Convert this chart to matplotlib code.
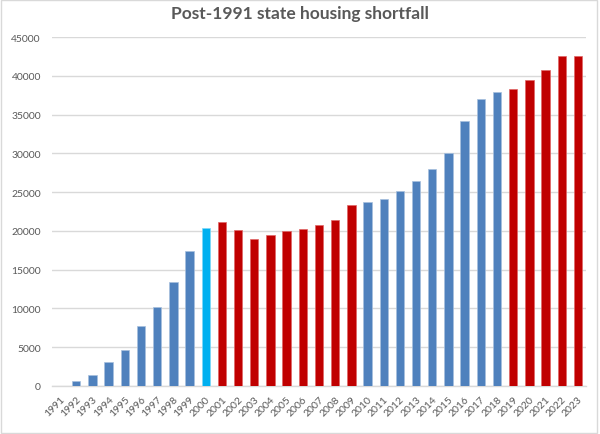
import matplotlib
matplotlib.use("Agg")
import matplotlib.pyplot as plt
from matplotlib.ticker import MultipleLocator

years = [str(y) for y in range(1991, 2024)]
shortfall = [0, 700, 1450, 3100, 4700, 7800, 10200, 13400, 17400, 20400,
             21100, 20100, 18900, 19500, 20000, 20200, 20700, 21400, 23300,
             23700, 24100, 25100, 26400, 28000, 30100, 34200, 37000, 37900,
             38300, 39400, 40800, 42500, 42600]
groups = ["b"] * 9 + ["c"] + ["r"] * 9 + ["b"] * 9 + ["r"] * 5
palette = {"b": "#4F81BD", "c": "#00B0F0", "r": "#C00000"}
edges = {"b": "#A7C0DE", "c": "#7FD7F7", "r": "#E06666"}

plt.rcParams['font.family'] = ['Lato', 'DejaVu Sans']

fig = plt.figure(figsize=(6.0, 4.35), dpi=100)
fig.patch.set_facecolor("white")
ax = fig.add_axes([52/600, 1 - 387/435, (586-52)/600, (387-38)/435])

x = list(range(len(years)))
ax.bar(x, shortfall, width=0.52, color=[palette[g] for g in groups],
       edgecolor=[edges[g] for g in groups], linewidth=0.5, zorder=3)

ax.set_xlim(-0.5, len(years) - 0.5)
ax.set_ylim(0, 45000)
ax.yaxis.set_major_locator(MultipleLocator(5000))
ax.grid(axis="y", color="#D9D9D9", linewidth=1.0, zorder=0)
for s in ["top", "right", "left"]:
    ax.spines[s].set_visible(False)
ax.spines["bottom"].set_color("#D9D9D9")
ax.spines["bottom"].set_linewidth(1.0)
ax.tick_params(axis="both", length=0, colors="#595959", labelsize=7.5)
ax.tick_params(axis="y", pad=8)
ax.set_xticks(x)
ax.set_xticklabels(years, rotation=45, ha="right", rotation_mode="anchor")
ax.tick_params(axis="x", pad=6)

fig.text(0.5, 1 - 14/435, "Post-1991 state housing shortfall", ha="center",
         va="center", fontsize=12.5, fontweight="bold", color="#595959")

border = plt.Rectangle((0.002, 0.002), 0.993, 0.995, transform=fig.transFigure,
                       fill=False, edgecolor="#D9D9D9", linewidth=1.0)
fig.patches.append(border)

fig.savefig("out.png", dpi=100, facecolor="white")
